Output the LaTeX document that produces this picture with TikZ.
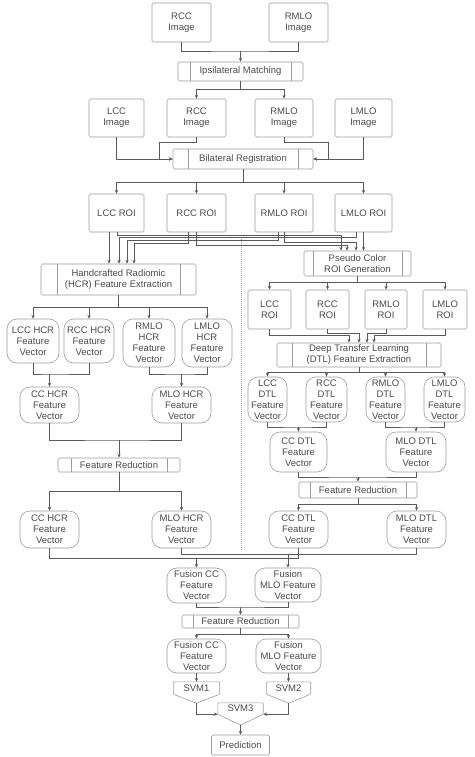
\documentclass[tikz,border=0pt]{standalone}
\usepackage{fontspec}
\setmainfont{Liberation Sans}
\usetikzlibrary{arrows.meta}
\definecolor{linec}{HTML}{5A5A5A}
\definecolor{bordc}{HTML}{9C9C9C}
\definecolor{textc}{HTML}{4A4A4A}
\tikzset{
  box/.style={draw=bordc, line width=0.6pt, rounded corners=1.5pt, inner sep=0pt, align=center, text=textc, font=\fontsize{9.5}{11}\selectfont},
  fv/.style={box, rounded corners=10pt},
  plain/.style={inner sep=0pt, align=center, text=textc, font=\fontsize{9.5}{11}\selectfont},
  proc/.style={box, path picture={\draw[bordc, line width=0.6pt] ([xshift=#1]path picture bounding box.north west) -- ([xshift=#1]path picture bounding box.south west) ([xshift=-#1]path picture bounding box.north east) -- ([xshift=-#1]path picture bounding box.south east);}},
  proc/.default=12pt,
  conn/.style={draw=linec, line width=0.6pt},
  arr/.style={conn, -{Stealth[length=3.8pt,width=3.2pt]}},
  sep/.style={draw=bordc, line width=0.5pt, dash pattern=on 1pt off 1pt},
  shapeline/.style={draw=bordc, line width=0.6pt, rounded corners=1pt}
}
\begin{document}
\begin{tikzpicture}[x=1pt,y=-1pt]
\useasboundingbox (0,0) rectangle (474,757);
% ---- top
\node[box, minimum width=59pt, minimum height=39pt] (rccimg) at (181.5,22.5) {RCC\\Image};
\node[box, minimum width=59pt, minimum height=39pt] (rmloimg) at (298.5,22.5) {RMLO\\Image};
\node[proc=12pt, minimum width=125pt, minimum height=19pt] (ipsi) at (240.5,71.5) {Ipsilateral Matching};
\node[box, minimum width=55pt, minimum height=38pt] (lccimg) at (116.5,118) {LCC\\Image};
\node[box, minimum width=59pt, minimum height=38pt] (rccimg2) at (196.5,118) {RCC\\Image};
\node[box, minimum width=58pt, minimum height=38pt] (rmloimg2) at (284,118) {RMLO\\Image};
\node[box, minimum width=57pt, minimum height=38pt] (lmloimg) at (363.5,118) {LMLO\\Image};
\node[proc=15pt, minimum width=140pt, minimum height=20pt] (bilat) at (243,159) {Bilateral Registration};
\node[box, minimum width=55pt, minimum height=38pt] (lccroi) at (116.5,213) {LCC ROI};
\node[box, minimum width=59pt, minimum height=38pt] (rccroi) at (196.5,213) {RCC ROI};
\node[box, minimum width=58pt, minimum height=38pt] (rmloroi) at (284,213) {RMLO ROI};
\node[box, minimum width=57pt, minimum height=38pt] (lmloroi) at (363.5,213) {LMLO ROI};
% ---- left branch
\node[proc=16pt, minimum width=155pt, minimum height=31pt] (hcr) at (118.5,279.5) {Handcrafted Radiomic\\(HCR) Feature Extraction};
\node[fv, minimum width=52pt, minimum height=44pt] (lcchcr) at (33,341) {LCC HCR\\Feature\\Vector};
\node[fv, minimum width=50pt, minimum height=44pt] (rcchcr) at (89,341) {RCC HCR\\Feature\\Vector};
\node[fv, minimum width=52pt, minimum height=48pt] (rmlohcr) at (149,343) {RMLO\\HCR\\Feature\\Vector};
\node[fv, minimum width=50pt, minimum height=48pt] (lmlohcr) at (207,343) {LMLO\\HCR\\Feature\\Vector};
\node[fv, minimum width=59pt, minimum height=36pt] (cchcr) at (49.5,405) {CC HCR\\Feature\\Vector};
\node[fv, minimum width=59pt, minimum height=36pt] (mlohcr) at (181.5,405) {MLO HCR\\Feature\\Vector};
\node[proc=13pt, minimum width=122pt, minimum height=14pt] (fr1) at (119,465) {Feature Reduction};
\node[fv, minimum width=59pt, minimum height=37pt] (cchcr2) at (49.5,529.5) {CC HCR\\Feature\\Vector};
\node[fv, minimum width=59pt, minimum height=37pt] (mlohcr2) at (181.5,529.5) {MLO HCR\\Feature\\Vector};
% ---- right branch
\node[proc=9pt, minimum width=107pt, minimum height=25pt] (pseudo) at (357.5,263.5) {Pseudo Color\\ROI Generation};
\node[box, minimum width=43pt, minimum height=39pt] (lccroi2) at (269.5,309.5) {LCC\\ROI};
\node[box, minimum width=43pt, minimum height=39pt] (rccroi2) at (327.5,309.5) {RCC\\ROI};
\node[box, minimum width=42pt, minimum height=39pt] (rmloroi2) at (386,309.5) {RMLO\\ROI};
\node[box, minimum width=44pt, minimum height=39pt] (lmloroi2) at (445,309.5) {LMLO\\ROI};
\node[proc=15pt, minimum width=164pt, minimum height=24pt] (dtl) at (359,355) {Deep Transfer Learning\\(DTL) Feature Extraction};
\node[fv, minimum width=39pt, minimum height=45pt] (lccdtl) at (267.5,399.5) {LCC\\DTL\\Feature\\Vector};
\node[fv, minimum width=41pt, minimum height=45pt] (rccdtl) at (326.5,399.5) {RCC\\DTL\\Feature\\Vector};
\node[fv, minimum width=39pt, minimum height=45pt] (rmlodtl) at (385.5,399.5) {RMLO\\DTL\\Feature\\Vector};
\node[fv, minimum width=41pt, minimum height=45pt] (lmlodtl) at (444.5,399.5) {LMLO\\DTL\\Feature\\Vector};
\node[fv, minimum width=57pt, minimum height=40pt] (ccdtl) at (298.5,452) {CC DTL\\Feature\\Vector};
\node[fv, minimum width=60pt, minimum height=40pt] (mlodtl) at (416,452) {MLO DTL\\Feature\\Vector};
\node[proc=11pt, minimum width=118pt, minimum height=16pt] (fr2) at (358,490) {Feature Reduction};
\node[fv, minimum width=59pt, minimum height=37pt] (ccdtl2) at (298.5,529.5) {CC DTL\\Feature\\Vector};
\node[fv, minimum width=59pt, minimum height=37pt] (mlodtl2) at (416.5,529.5) {MLO DTL\\Feature\\Vector};
% ---- fusion
\node[fv, minimum width=59pt, minimum height=35pt] (fuscc) at (196.5,585.5) {Fusion CC\\Feature\\Vector};
\node[fv, minimum width=66pt, minimum height=34pt] (fusmlo) at (288,585) {Fusion\\MLO Feature\\Vector};
\node[proc=11pt, minimum width=117pt, minimum height=13pt] (fr3) at (240.5,621.5) {Feature Reduction};
\node[fv, minimum width=59pt, minimum height=34pt] (fuscc2) at (196.5,656) {Fusion CC\\Feature\\Vector};
\node[fv, minimum width=65pt, minimum height=34pt] (fusmlo2) at (288.5,656) {Fusion\\MLO Feature\\Vector};
\node[plain, minimum width=46pt, minimum height=12pt] (svm1) at (196.5,688) {SVM1};
\node[plain, minimum width=44pt, minimum height=12pt] (svm2) at (288.5,688) {SVM2};
\node[plain, minimum width=45pt, minimum height=11pt] (svm3) at (240.5,708.5) {SVM3};
\node[box, minimum width=58pt, minimum height=20pt] (pred) at (240.5,745) {Prediction};
\coordinate (svm1tip) at ([yshift=-9pt]svm1.south);
\coordinate (svm2tip) at ([yshift=-9pt]svm2.south);
\coordinate (svm3tip) at ([yshift=-11pt]svm3.south);
\draw[shapeline] (svm1.north west) -- (svm1.north east) -- (svm1.south east) -- (svm1tip) -- (svm1.south west) -- cycle;
\draw[shapeline] (svm2.north west) -- (svm2.north east) -- (svm2.south east) -- (svm2tip) -- (svm2.south west) -- cycle;
\draw[shapeline] (svm3.north west) -- (svm3.north east) -- (svm3.south east) -- (svm3tip) -- (svm3.south west) -- cycle;
% ---- separator
\coordinate (sepTop) at (241,239);
\coordinate (sepBot) at (241,550);
\draw[sep] (sepTop) -- (sepBot);
% ---- junctions
\coordinate (j1) at (240.5,51);
\coordinate (j2) at (240.5,89);
\coordinate (jr) at (159,142);
\coordinate (jm) at (328,142);
\coordinate (j3) at (243,182);
\coordinate (j4) at (118.5,307);
\coordinate (j5) at (49.5,374);
\coordinate (j6) at (181.5,374);
\coordinate (j7) at (119,440);
\coordinate (j8) at (119,491);
\coordinate (j9) at (357.5,282);
\coordinate (j10) at (359,372);
\coordinate (j11) at (298.5,427);
\coordinate (j12) at (416,427);
\coordinate (j13) at (358,477);
\coordinate (j14) at (358,504);
\coordinate (j15) at (196.5,558);
\coordinate (j16) at (288,554);
\coordinate (j17) at (240.5,607);
\coordinate (j18) at (240.5,634);
% ---- top connectors
\draw[conn] (rccimg.south) |- (j1) -| (rmloimg.south);
\draw[arr] (j1) -- (ipsi.north);
\draw[conn] (ipsi.south) -- (j2);
\draw[arr] (j2) -| (rccimg2.north);
\draw[arr] (j2) -| (rmloimg2.north);
\draw[arr] (lccimg.south) |- (bilat.west);
\draw[arr] (rccimg2.south) |- (jr) |- (bilat.west);
\draw[arr] (rmloimg2.south) |- (jm) |- (bilat.east);
\draw[arr] (lmloimg.south) |- (bilat.east);
\draw[conn] (bilat.south) -- (j3);
\draw[arr] (j3) -| (lccroi.north);
\draw[arr] (j3) -| (rccroi.north);
\draw[arr] (j3) -| (rmloroi.north);
\draw[arr] (j3) -| (lmloroi.north);
% ---- ROI to HCR and pseudo colour
\coordinate (a1) at ([xshift=-7.5pt]lccroi.south);
\coordinate (a2) at ([xshift=0.5pt]lccroi.south);
\coordinate (a3) at ([xshift=-7.5pt]lmloroi.south);
\coordinate (a4) at ([xshift=-6pt]rmloroi.south);
\coordinate (a5) at ([xshift=-8.5pt]rccroi.south);
\coordinate (a6) at ([xshift=-0.5pt]rccroi.south);
\coordinate (h2) at ([xshift=0.5pt]hcr.north);
\coordinate (h3) at ([xshift=8.5pt]hcr.north);
\coordinate (h4) at ([xshift=15.5pt]hcr.north);
\coordinate (p1) at ([xshift=-16.5pt]pseudo.north);
\coordinate (p2) at ([xshift=-10.5pt]pseudo.north);
\coordinate (p3) at ([xshift=-1.5pt]pseudo.north);
\draw[arr] (a1) -- (a1 |- hcr.north);
\draw[arr] (a2) -- ++(0,3) -| (p1);
\draw[arr] (a3) -- ++(0,5) -| (h2);
\draw[arr] (a4) -- ++(0,8) -| (h3);
\draw[arr] (a5) -- ++(0,11) -| (h4);
\draw[arr] (a6) -- ++(0,13) -| (p2);
\draw[arr] (rmloroi.south) -- ++(0,10) -| (p3);
\draw[arr] (lmloroi.south) -- (lmloroi.south |- pseudo.north);
% ---- left branch connectors
\draw[conn] (hcr.south) -- (j4);
\draw[arr] (j4) -| (lcchcr.north);
\draw[arr] (j4) -| (rcchcr.north);
\draw[arr] (j4) -| (rmlohcr.north);
\draw[arr] (j4) -| (lmlohcr.north);
\draw[conn] (lcchcr.south) |- (j5) -| (rcchcr.south);
\draw[arr] (j5) -- (cchcr.north);
\draw[conn] (rmlohcr.south) |- (j6) -| (lmlohcr.south);
\draw[arr] (j6) -- (mlohcr.north);
\draw[conn] (cchcr.south) |- (j7) -| (mlohcr.south);
\draw[arr] (j7) -- (fr1.north);
\draw[conn] (fr1.south) -- (j8);
\draw[arr] (j8) -| (cchcr2.north);
\draw[arr] (j8) -| (mlohcr2.north);
% ---- right branch connectors
\draw[conn] (pseudo.south) -- (j9);
\draw[arr] (j9) -| (lccroi2.north);
\draw[arr] (j9) -| (rccroi2.north);
\draw[arr] (j9) -| (rmloroi2.north);
\draw[arr] (j9) -| (lmloroi2.north);
\coordinate (d1) at ([xshift=-10pt]dtl.north);
\coordinate (d2) at (dtl.north);
\coordinate (d3) at ([xshift=8pt]dtl.north);
\coordinate (d4) at ([xshift=15pt]dtl.north);
\draw[arr] (lccroi2.south) -- ++(0,6) -| (d1);
\draw[arr] (rccroi2.south) -- ++(0,4) -| (d2);
\draw[arr] (rmloroi2.south) -- ++(0,4) -| (d3);
\draw[arr] (lmloroi2.south) -- ++(0,6) -| (d4);
\draw[conn] (dtl.south) -- (j10);
\draw[arr] (j10) -| (lccdtl.north);
\draw[arr] (j10) -| (rccdtl.north);
\draw[arr] (j10) -| (rmlodtl.north);
\draw[arr] (j10) -| (lmlodtl.north);
\draw[conn] (lccdtl.south) |- (j11) -| (rccdtl.south);
\draw[arr] (j11) -- (ccdtl.north);
\draw[conn] (rmlodtl.south) |- (j12) -| (lmlodtl.south);
\draw[arr] (j12) -- (mlodtl.north);
\draw[conn] (ccdtl.south) |- (j13) -| (mlodtl.south);
\draw[arr] (j13) -- (fr2.north);
\draw[conn] (fr2.south) -- (j14);
\draw[arr] (j14) -| (ccdtl2.north);
\draw[arr] (j14) -| (mlodtl2.north);
% ---- fusion connectors
\draw[conn] (cchcr2.south) |- (j15);
\draw[conn] (ccdtl2.south) |- (j15);
\draw[arr] (j15) -- (fuscc.north);
\draw[conn] (mlohcr2.south) |- (j16);
\draw[conn] (mlodtl2.south) |- (j16);
\draw[arr] (j16) -- (fusmlo.north);
\draw[conn] (fuscc.south) |- (j17) -| (fusmlo.south);
\draw[arr] (j17) -- (fr3.north);
\draw[conn] (fr3.south) -- (j18);
\draw[arr] (j18) -| (fuscc2.north);
\draw[arr] (j18) -| (fusmlo2.north);
\draw[arr] (fuscc2.south) -- (svm1.north);
\draw[arr] (fusmlo2.south) -- (svm2.north);
\draw[arr] (svm1tip) |- (svm3.south west);
\draw[arr] (svm2tip) |- (svm3.south east);
\draw[arr] (svm3tip) -- (pred.north);
\end{tikzpicture}
\end{document}
